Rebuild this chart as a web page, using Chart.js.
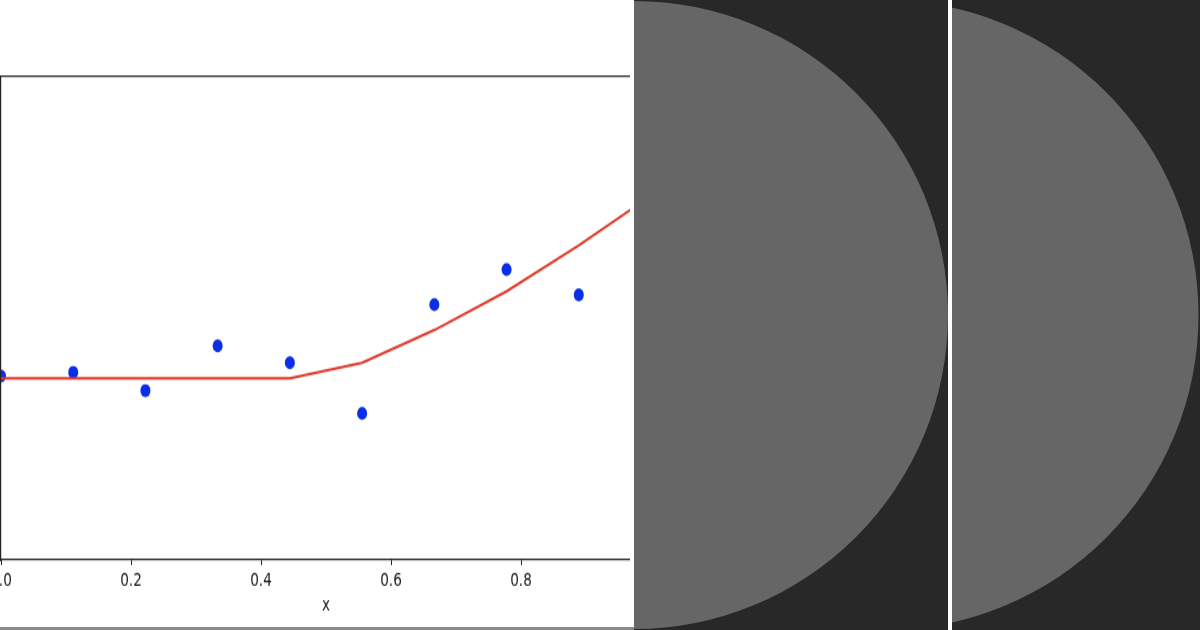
<!DOCTYPE html>
<html>
<head>
<meta charset="utf-8">
<script src="https://cdn.jsdelivr.net/npm/chart.js@4.4.1/dist/chart.umd.min.js"></script>
<style>
  html, body { margin: 0; padding: 0; }
  body { width: 1200px; height: 630px; overflow: hidden; background: #ffffff; position: relative; }
  #left { position: absolute; left: 0; top: 0; width: 634px; height: 630px; background: #ffffff; }
  #clip { position: absolute; left: 0; top: 0; width: 630px; height: 630px; overflow: hidden; }
  /* the plot in the picture is stretched vertically, so the canvas is too */
  #fitChart { position: absolute; left: 0; top: 0; transform: scaleY(1.299); transform-origin: 0 0; }
  #edge { position: absolute; left: 0; top: 627px; width: 634px; height: 3px; background: #8a8a8a; }
  .panel { position: absolute; top: 0; height: 630px; background: #282828; overflow: hidden; }
  #panelA { left: 634px; width: 314px; }
  #panelB { left: 952px; width: 248px; }
  #discB { position: absolute; left: -70px; top: 0; }
</style>
</head>
<body>
<div id="left">
  <div id="clip"><canvas id="fitChart" width="700" height="485"></canvas></div>
  <div id="edge"></div>
</div>
<div class="panel" id="panelA"><canvas id="discA" width="314" height="630"></canvas></div>
<div class="panel" id="panelB"><canvas id="discB" width="318" height="630"></canvas></div>

<script>
// sample points (blue dots), last one sits outside the crop
var pointX = [0, 0.1111, 0.2222, 0.3333, 0.4444, 0.5556, 0.6667, 0.7778, 0.8889];
var pointY = [0.02, 0.05, -0.10, 0.27, 0.13, -0.29, 0.61, 0.90, 0.69];

// fitted curve (red line)
var fitX = [0, 0.1111, 0.2222, 0.3333, 0.4444, 0.5556, 0.6667, 0.7778, 0.8889, 1.0];
var fitY = [0, 0, 0, 0, 0, 0.13, 0.40, 0.72, 1.10, 1.51];

var xTicks = [0, 0.2, 0.4, 0.6, 0.8, 1.0];
var xTitle = 'x';

// the two half discs on the right
var discValues = [1];

var font = { family: '"DejaVu Sans", sans-serif', size: 13.6 };

new Chart(document.getElementById('fitChart'), {
    type: 'scatter',
    data: {
        datasets: [
            {
                type: 'line',
                data: fitX.map(function (x, i) { return { x: x, y: fitY[i] }; }),
                borderColor: '#e03a2c',
                borderWidth: 2,
                pointRadius: 0,
                fill: false,
                tension: 0
            },
            {
                data: pointX.map(function (x, i) { return { x: x, y: pointY[i] }; }),
                backgroundColor: '#0a2fe6',
                borderWidth: 0,
                pointRadius: 5
            }
        ]
    },
    options: {
        responsive: false,
        animation: false,
        layout: { autoPadding: false, padding: { top: 58.5, left: 0, right: 49, bottom: 0 } },
        plugins: { legend: { display: false }, tooltip: { enabled: false } },
        scales: {
            x: {
                type: 'linear',
                position: 'bottom',
                min: 0,
                max: 1,
                afterBuildTicks: function (s) { s.ticks = xTicks.map(function (v) { return { value: v }; }); },
                afterFit: function (s) {
                    s.height = 54;
                    s.paddingLeft = 0;
                    s.paddingRight = 0;
                },
                grid: { drawOnChartArea: false, tickLength: 4, tickColor: '#222', tickWidth: 1 },
                border: { display: true, color: '#222', width: 1.2 },
                ticks: {
                    color: '#1a1a1a',
                    font: font,
                    padding: 4,
                    maxRotation: 0,
                    callback: function (v) { return Number(v).toFixed(1); }
                },
                title: { display: true, text: xTitle, color: '#1a1a1a', font: font, padding: { top: 0, bottom: 10.5 } }
            },
            xTop: {
                type: 'linear',
                position: 'top',
                min: 0,
                max: 1,
                afterFit: function (s) {
                    s.height = 0;
                    s.paddingLeft = 0;
                    s.paddingRight = 0;
                },
                grid: { display: false },
                border: { display: true, color: '#222', width: 1.2 },
                ticks: { display: false }
            },
            y: {
                min: -1.5,
                max: 2.5,
                afterFit: function (s) {
                    s.width = 1;
                    s.paddingTop = 0;
                    s.paddingBottom = 0;
                },
                grid: { display: false },
                border: { display: true, color: '#222', width: 1.2 },
                ticks: { display: false }
            }
        }
    }
});

// half discs drawn as a single 180 degree pie slice
function drawDisc(id) {
    new Chart(document.getElementById(id), {
        type: 'pie',
        data: {
            datasets: [{
                data: discValues,
                backgroundColor: '#666666',
                borderWidth: 0
            }]
        },
        options: {
            responsive: false,
            animation: false,
            rotation: 0,
            circumference: 180,
            layout: { padding: 0 },
            plugins: { legend: { display: false }, tooltip: { enabled: false } }
        }
    });
}
drawDisc('discA');
drawDisc('discB');
</script>
</body>
</html>
